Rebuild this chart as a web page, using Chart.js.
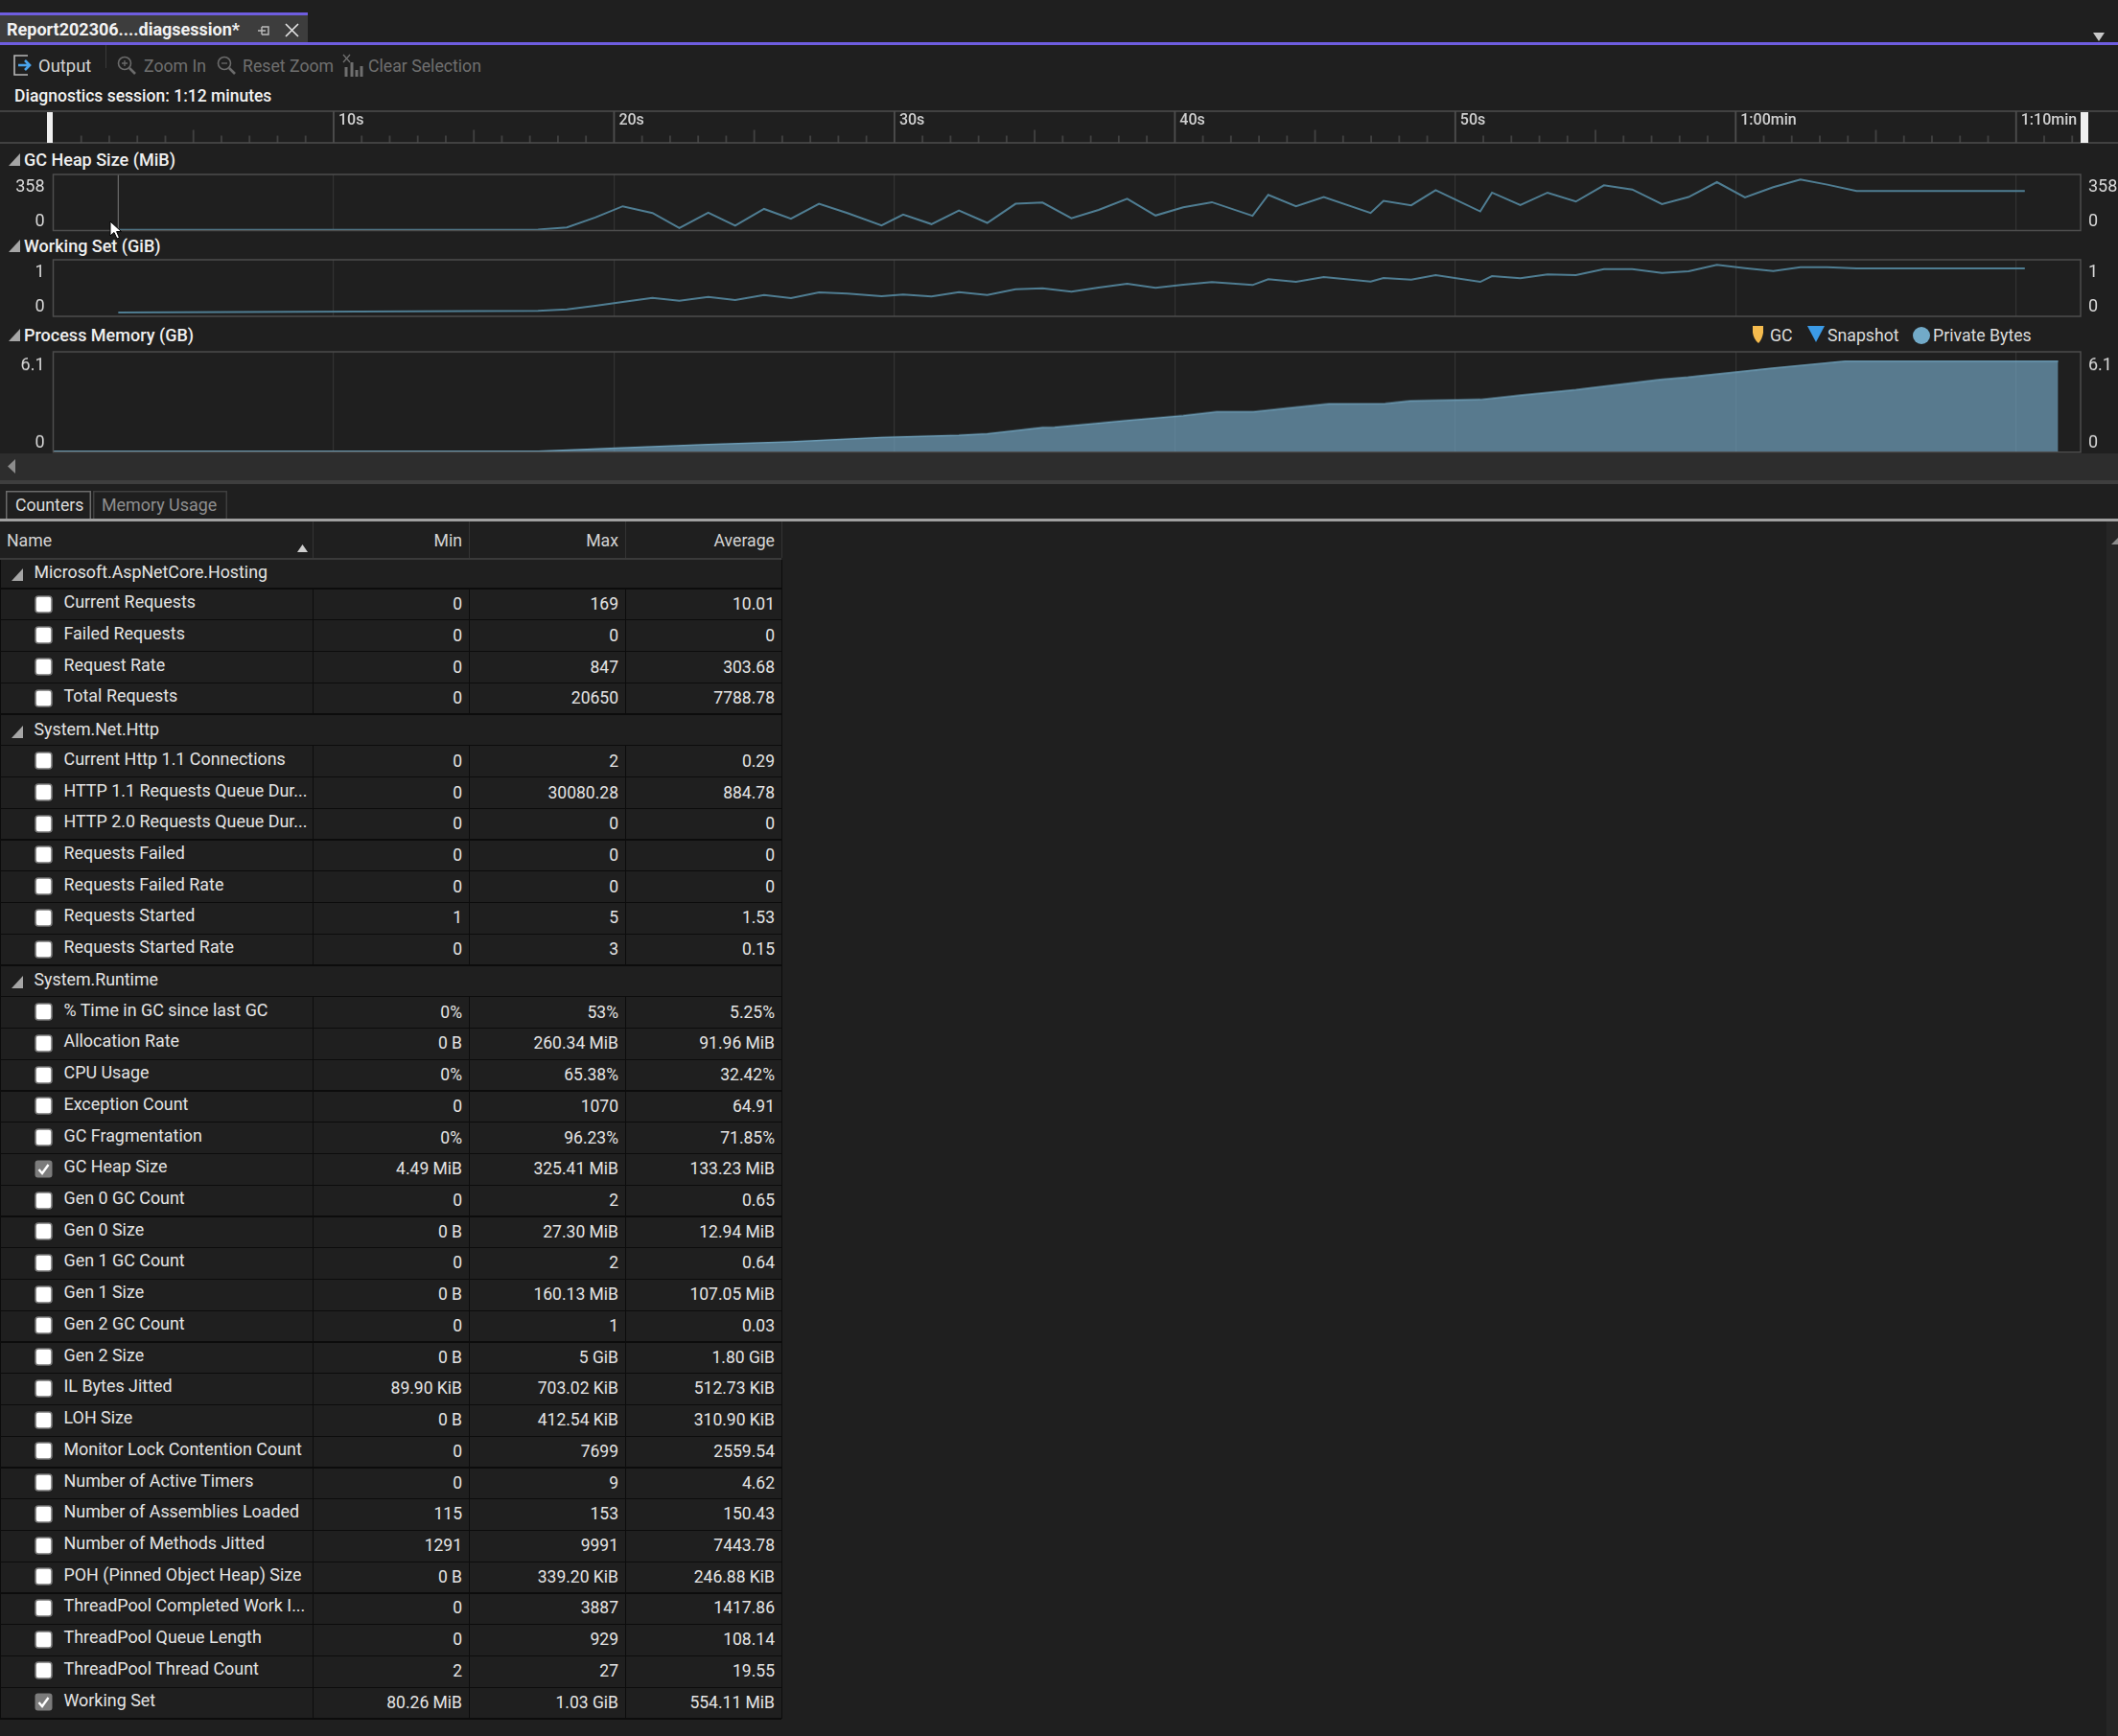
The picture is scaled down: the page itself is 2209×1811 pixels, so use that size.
<!DOCTYPE html>
<html><head><meta charset="utf-8">
<style>
html,body{margin:0;padding:0;background:#1f1f1f;width:2209px;height:1811px;overflow:hidden;font-family:Roboto,"Noto Sans",sans-serif;color:#e6e6e6}
.a{position:absolute;white-space:nowrap}
.t{position:absolute;white-space:nowrap;line-height:24px;height:24px;font-size:17.7px}
canvas{display:block}
.cv{position:absolute;left:0;width:2209px}
</style>
<script src="https://cdn.jsdelivr.net/npm/chart.js@4"></script>
</head><body>
<div id="root"></div>
<script>
// ---------- chart data ----------
const sampleTimes=[2.32,17.29,18.32,19.33,20.31,21.37,22.33,23.36,24.32,25.35,26.31,27.31,28.32,29.54,30.31,31.32,32.3,33.31,34.32,35.28,36.31,37.28,38.3,39.31,40.3,41.32,42.77,43.33,44.32,45.31,46.98,47.44,48.43,49.3,50.89,51.31,52.32,53.29,54.3,55.3,56.31,57.37,58.32,59.33,60.33,61.34,62.31,63.27,64.31,70.31];
const gcHeapValues=[4.49,6,20,83,155,112,16,114,31,138,75,171,112,33,102,41,128,49,171,179,79,132,203,96,148,181,94,228,155,214,112,189,161,258,122,242,163,242,185,289,262,169,214,309,212,277,325.41,293,252,252];
const workingSetValues=[0.078,0.109,0.14,0.21,0.287,0.37,0.313,0.389,0.326,0.428,0.364,0.479,0.453,0.402,0.434,0.396,0.485,0.428,0.543,0.562,0.492,0.575,0.651,0.568,0.632,0.683,0.626,0.741,0.689,0.785,0.696,0.766,0.734,0.824,0.689,0.804,0.76,0.836,0.824,0.945,0.945,0.868,0.9,1.03,0.964,0.906,0.983,0.983,0.958,0.958];
const memoryTimes=[0,17.3,20.31,23.36,26.31,29.54,32.3,33.31,35.28,35.71,38.3,40.3,41.5,42.8,45.5,47.5,48.4,50.89,52.3,54.3,57.3,58.3,61.3,63.9,71.5];
const privateBytesValues=[0.06,0.06,0.28,0.52,0.69,0.99,1.12,1.23,1.64,1.66,2.11,2.43,2.69,2.69,3.23,3.25,3.42,3.51,3.79,4.16,4.85,5.0,5.6,6.07,6.07];
const cursorTime=[2.32,2.32];
const cursorSpan=[0,358];
const rulerSeconds=[1,2,3,4,5,6,7,8,9,10,11,12,13,14,15,16,17,18,19,20,21,22,23,24,25,26,27,28,29,30,31,32,33,34,35,36,37,38,39,40,41,42,43,44,45,46,47,48,49,50,51,52,53,54,55,56,57,58,59,60,61,62,63,64,65,66,67,68,69,70,71,72];
const rulerLabels=['10s','20s','30s','40s','50s','1:00min','1:10min'];
const rulerLabelSeconds=[10,20,30,40,50,60,70];
// ---------- table data ----------
const hostingRows=[['Current Requests','0','169','10.01'],['Failed Requests','0','0','0'],['Request Rate','0','847','303.68'],['Total Requests','0','20650','7788.78']];
const httpRows=[['Current Http 1.1 Connections','0','2','0.29'],['HTTP 1.1 Requests Queue Dur...','0','30080.28','884.78'],['HTTP 2.0 Requests Queue Dur...','0','0','0'],['Requests Failed','0','0','0'],['Requests Failed Rate','0','0','0'],['Requests Started','1','5','1.53'],['Requests Started Rate','0','3','0.15']];
const runtimeRows=[['% Time in GC since last GC','0%','53%','5.25%'],['Allocation Rate','0 B','260.34 MiB','91.96 MiB'],['CPU Usage','0%','65.38%','32.42%'],['Exception Count','0','1070','64.91'],['GC Fragmentation','0%','96.23%','71.85%'],['GC Heap Size','4.49 MiB','325.41 MiB','133.23 MiB'],['Gen 0 GC Count','0','2','0.65'],['Gen 0 Size','0 B','27.30 MiB','12.94 MiB'],['Gen 1 GC Count','0','2','0.64'],['Gen 1 Size','0 B','160.13 MiB','107.05 MiB'],['Gen 2 GC Count','0','1','0.03'],['Gen 2 Size','0 B','5 GiB','1.80 GiB'],['IL Bytes Jitted','89.90 KiB','703.02 KiB','512.73 KiB'],['LOH Size','0 B','412.54 KiB','310.90 KiB'],['Monitor Lock Contention Count','0','7699','2559.54'],['Number of Active Timers','0','9','4.62'],['Number of Assemblies Loaded','115','153','150.43'],['Number of Methods Jitted','1291','9991','7443.78'],['POH (Pinned Object Heap) Size','0 B','339.20 KiB','246.88 KiB'],['ThreadPool Completed Work I...','0','3887','1417.86'],['ThreadPool Queue Length','0','929','108.14'],['ThreadPool Thread Count','2','27','19.55'],['Working Set','80.26 MiB','1.03 GiB','554.11 MiB']];
const checkedCounters=['GC Heap Size','Working Set'];

// ---------- page helpers ----------
const root=document.getElementById('root');
function box(x,y,w,h,bg,extra){const d=document.createElement('div');d.className='a';d.style.cssText+=`left:${x}px;top:${y}px;width:${w}px;height:${h}px;background:${bg};`+(extra||'');root.appendChild(d);return d;}
function text(s,x,cy,o){o=o||{};const d=document.createElement('div');d.className='t';d.textContent=s;
 d.style.top=(cy-12)+'px';
 if(o.right!==undefined){d.style.right=(2209-o.right)+'px';d.style.textAlign='right';}else d.style.left=x+'px';
 d.style.color=o.color||'#e4e4e4';if(o.size)d.style.fontSize=o.size+'px';if(o.weight)d.style.fontWeight=o.weight;if(o.ls)d.style.letterSpacing=o.ls+'px';
 root.appendChild(d);return d;}
function svg(x,y,w,h,inner){const d=document.createElement('div');d.className='a';d.style.cssText+=`left:${x}px;top:${y}px;width:${w}px;height:${h}px;`;
 d.innerHTML=`<svg width="${w}" height="${h}" viewBox="0 0 ${w} ${h}" xmlns="http://www.w3.org/2000/svg">${inner}</svg>`;root.appendChild(d);return d;}
function collapse(x,y){svg(x,y,13,14,'<polygon points="12,0 12,13 0,13" fill="#a6a6a6"/>');}

// ---------- window chrome ----------
box(0,13,321,3,'#6e5de0');box(0,16,321,28,'#3d3d3d');box(0,44,2209,3,'#6e5de0');
text('Report202306....diagsession*',7,31,{weight:700,color:'#f2f2f2',size:18});
svg(268,24,14,14,'<path d="M1 7H5M5 3V11M5 3H12V11H5M5 7H9" stroke="#bdbdbd" stroke-width="1.4" fill="none"/>');
svg(297,24,15,15,'<path d="M1 1L14 14M14 1L1 14" stroke="#e4e4e4" stroke-width="1.6"/>');
svg(2183,28,12,9,'<polygon points="0,0 12,0 6,9" fill="#c8c8c8"/>');
svg(13,56,22,23,'<path d="M16 2H2V22H16" stroke="#b8b8b8" stroke-width="1.6" fill="none"/><path d="M6 12H17M13 7L18 12L13 17" stroke="#4aa3ec" stroke-width="2.6" fill="none"/>');
text('Output',40,69,{color:'#d4d4d4',size:18.4});
box(110,47,1,24,'#3a3a3a');
const mag='<circle cx="8" cy="8" r="6.5" stroke="#6b6b6b" stroke-width="1.6" fill="none"/><path d="M13 13L19 19" stroke="#6b6b6b" stroke-width="2.6"/>';
svg(122,58,20,21,mag+'<path d="M5 8H11M8 5V11" stroke="#6b6b6b" stroke-width="1.3"/>');
text('Zoom In',150,69,{color:'#6f6f6f'});
svg(226,58,20,21,mag+'<path d="M5 8H11" stroke="#6b6b6b" stroke-width="1.3"/>');
text('Reset Zoom',253,69,{color:'#6f6f6f'});
svg(357,56,22,25,'<path d="M1 1L8 9M8 1L1 9" stroke="#6f6f6f" stroke-width="1.3"/><path d="M4 14V24M10 9V24M15 17V24M20 13V24" stroke="#6f6f6f" stroke-width="3"/>');
text('Clear Selection',384,69,{color:'#6f6f6f'});
text('Diagnostics session: 1:12 minutes',15,100,{weight:500,color:'#f2f2f2',size:17.5});

// section titles and plots
[['GC Heap Size (MiB)',167],['Working Set (GiB)',257],['Process Memory (GB)',350]].forEach(([s,cy])=>{collapse(9,cy-8);text(s,25,cy,{weight:500,color:'#f0f0f0',size:18});});

// legend row
svg(1828,340,12,18,'<path d="M0 0H11V7Q10 14 6 18Q1 14 0 7Z" fill="#f5bb4e"/>');
text('GC',1846,350,{color:'#dcdcdc'});
svg(1885,340,19,17,'<polygon points="0,0 18,0 9,17" fill="#3b9ae6"/>');
text('Snapshot',1906,350,{color:'#dcdcdc'});
svg(1995,341,18,18,'<circle cx="9" cy="9" r="9" fill="#72aac8"/>');
text('Private Bytes',2016,350,{color:'#dcdcdc'});

// bottom of chart area
box(0,473,2209,28,'#2d2d2d');box(0,501,2209,4,'#3e3e3e');
svg(8,479,9,16,'<polygon points="8,0 8,15 0,7.5" fill="#8c8c8c"/>');
box(6,512,87,29,'transparent','border:1px solid #6b6b6b;border-bottom:none;box-shadow:inset 0 0 0 0.5px #6b6b6b;');
text('Counters',16,527,{color:'#dcdcdc'});
box(97,512,138,29,'transparent','border:1px solid #3f3f3f;border-bottom:none;box-shadow:inset 0 0 0 0.5px #3f3f3f;');
text('Memory Usage',106,527,{color:'#8e8e8e',size:17.9});
box(0,541,2209,3,'#a0a0a0');
box(2197,544,12,1267,'#262626');
svg(2202,553,7,7,'<polygon points="7,0 7,7 0,7" fill="#8c8c8c"/>');

// ---------- table ----------
const colX=[325.6,488.6,651.7,814.7];
text('Name',7,563.5,{color:'#d4d4d4'});
text('Min',0,563.5,{right:482,color:'#d4d4d4'});
text('Max',0,563.5,{right:645,color:'#d4d4d4'});
text('Average',0,563.5,{right:808,color:'#d4d4d4'});
svg(310,561,11,8,'<polygon points="5.5,0 11,8 0,8" fill="#cfcfcf"/>');
colX.forEach(x=>box(x,544,1,38,'#333333'));
box(0,582,815,2,'#3a3a3a');
const rowH=32.75,textRowH=32.73;let r=0;
function lineY(i){return 613.3+rowH*i;}
function groupRow(name){const cy=596.9+textRowH*r;collapse(12,cy-5);text(name,35.5,cy,{color:'#e4e4e4',size:17.8});box(0,lineY(r),815,1.4,'#0c0c0c');r++;}
function dataRow(row){const cy=596.9+textRowH*r;const on=checkedCounters.includes(row[0]);
 if(on){svg(36,cy-9,19,19,'<rect x="0.5" y="0.5" width="18" height="18" rx="3" fill="#7c7c7c"/><path d="M4.5 10L8 14L14.5 5" stroke="#fff" stroke-width="2.4" fill="none"/>');}
 else{svg(36,cy-9,19,19,'<rect x="1" y="1" width="17" height="17" rx="3" fill="#ffffff" stroke="#777" stroke-width="1.6"/>');}
 text(row[0],66.5,cy-1.5,{size:17.9});
 text(row[1],0,cy+0.5,{right:482,size:17.5});text(row[2],0,cy+0.5,{right:645,size:17.5});text(row[3],0,cy+0.5,{right:808,size:17.5});
 colX.slice(0,3).forEach(x=>box(x,lineY(r-1),1.2,rowH,'#0c0c0c'));
 box(0,lineY(r),815,1.4,'#0c0c0c');r++;}
groupRow('Microsoft.AspNetCore.Hosting');hostingRows.forEach(dataRow);
groupRow('System.Net.Http');httpRows.forEach(dataRow);
groupRow('System.Runtime');runtimeRows.forEach(dataRow);
box(0,584,1.2,1208.5,'#0c0c0c');box(814.7,584,1.2,1208.5,'#0c0c0c');

// ---------- charts ----------
const X_MAX=72.3,LEFT_W=55.5,RIGHT_W=39,AX='#d8d8d8',GRID='#333333',FRAME='#4d4d4d';
const gridSeconds=[10,20,30,40,50,60,70];
const framePlugin={id:'frame',afterDatasetsDraw(c){const a=c.chartArea,g=c.ctx;g.save();g.strokeStyle=FRAME;g.lineWidth=1.5;g.strokeRect(a.left,a.top,a.right-a.left,a.bottom-a.top);g.restore();}};
function xAxis(){return {type:'linear',min:0,max:X_MAX,afterBuildTicks:s=>{s.ticks=gridSeconds.map(v=>({value:v}));},ticks:{display:false},border:{display:false},grid:{color:GRID,lineWidth:1.2,drawTicks:false},afterFit:s=>{s.height=0;s.paddingLeft=0;s.paddingRight=0;}};}
function yAxis(pos,yMax,topValue,topLabel,shift){
 return {type:'linear',position:pos,min:0,max:yMax,afterBuildTicks:s=>{s.ticks=[{value:0},{value:topValue}];},
  grid:{display:false,drawTicks:false},border:{display:false},
  afterFit:s=>{s.width=pos==='left'?LEFT_W:RIGHT_W;s.paddingTop=0;s.paddingBottom=0;},
  ticks:{color:AX,padding:pos==='left'?9:8,labelOffset:shift,font:{family:'Roboto',size:18,lineHeight:(2*(9.2+shift))+'px'},autoSkip:false,
   callback:v=>v===0?['0','']:topLabel}};
}
function panel(id,top,height,yMax,topValue,topLabel,shift,datasets){
 const d=document.createElement('div');d.className='cv';d.style.top=(top-3)+'px';d.style.height=(height+6)+'px';
 const c=document.createElement('canvas');c.id=id;d.appendChild(c);root.appendChild(d);
 new Chart(c,{type:'line',data:{datasets},plugins:[framePlugin],options:{responsive:true,maintainAspectRatio:false,animation:false,
  layout:{padding:{top:3,bottom:3,left:0,right:0}},plugins:{legend:{display:false},tooltip:{enabled:false}},
  scales:{x:xAxis(),y:yAxis('left',yMax,topValue,topLabel,shift),y2:yAxis('right',yMax,topValue,topLabel,shift)}}});
}
const zip=(a,b)=>a.map((x,i)=>({x,y:b[i]}));
const lineStyle={borderColor:'#4f7d92',borderWidth:2,pointRadius:0,tension:0,yAxisID:'y',fill:false};
panel('gcChart',181.5,58.5,358,358,'358',13.5,[
 {label:'Cursor',data:zip(cursorTime,cursorSpan),borderColor:'#6a6a6a',borderWidth:1.2,pointRadius:0,yAxisID:'y'},
 {label:'GC Heap Size',data:zip(sampleTimes,gcHeapValues),...lineStyle}]);
panel('wsChart',271.3,59,1.13,1,'1',6.5,[
 {label:'Working Set',data:zip(sampleTimes,workingSetValues),...lineStyle}]);
panel('memChart',367.3,103.7,6.7,6.1,'6.1',4.9,[
 {label:'Private Bytes',data:zip(memoryTimes,privateBytesValues),borderColor:'#6c9cb5',borderWidth:1.5,pointRadius:0,tension:0,yAxisID:'y',fill:'origin',backgroundColor:'rgba(112,161,189,0.7)'}]);

// ruler: one thin bar per second, taller every 5 and 10 seconds
(function(){
 const d=document.createElement('div');d.className='cv';d.style.top='115px';d.style.height='35px';
 const c=document.createElement('canvas');c.id='ruler';d.appendChild(c);root.appendChild(d);
 const level=s=>s%10===0?1:s%5===0?0.4:0.22;
 new Chart(c,{type:'bar',data:{datasets:[{label:'Time ruler',data:rulerSeconds.map(s=>({x:s,y:level(s)})),barThickness:1.2,backgroundColor:rulerSeconds.map(s=>s%10===0?'#4d4d4d':'#414141')}]},
  plugins:[{id:'rules',afterDatasetsDraw(ch){const a=ch.chartArea,g=ch.ctx;g.save();g.strokeStyle=FRAME;g.lineWidth=1.4;g.beginPath();g.moveTo(0,a.top);g.lineTo(2209,a.top);g.moveTo(0,a.bottom);g.lineTo(2209,a.bottom);g.stroke();g.restore();}}],
  options:{responsive:true,maintainAspectRatio:false,animation:false,layout:{padding:{top:1,bottom:1,left:LEFT_W,right:RIGHT_W}},plugins:{legend:{display:false},tooltip:{enabled:false}},
  scales:{x:{type:'linear',offset:false,min:0,max:X_MAX,grid:{display:false,drawTicks:false,offset:false},border:{display:false},afterBuildTicks:s=>{s.ticks=rulerLabelSeconds.map(v=>({value:v}));},afterFit:s=>{s.height=0;s.paddingLeft=0;s.paddingRight=0;},
    ticks:{color:'#d0d0d0',align:'start',mirror:true,labelOffset:5,padding:13,autoSkip:false,maxRotation:0,minRotation:0,font:{family:'Roboto',size:16,weight:'500'},callback:v=>rulerLabels[rulerLabelSeconds.indexOf(v)]}},
   y:{display:false,min:0,max:1}}}});
})();
box(48.6,117,6.6,32,'#efefef');box(2170,117,8,32,'#efefef');
// mouse pointer
svg(114,230,16,20,'<path d="M1 1V16L5 12.5L8 19L10.5 18L7.6 11.6H12.6Z" fill="#fff" stroke="#000" stroke-width="1"/>');
</script>
</body></html>
